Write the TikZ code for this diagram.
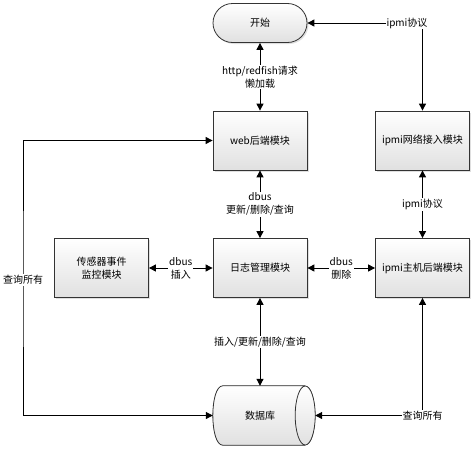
\documentclass[tikz,border=0pt]{standalone}
\usepackage{fontspec}
\setmainfont{Noto Sans CJK SC}
\usetikzlibrary{arrows.meta,shadows}
\begin{document}
\begin{tikzpicture}[x=1pt,y=-1pt,
  font=\fontsize{10}{13}\selectfont,
  box/.style={draw=black!80,line width=0.8pt,minimum width=94pt,minimum height=59pt,
    top color=white,bottom color=black!12,align=center,
    drop shadow={shadow xshift=1.5pt,shadow yshift=-1.5pt,opacity=0.25}},
  lbl/.style={fill=white,inner sep=1pt,align=center},
  arr/.style={line width=1pt,{Triangle[length=7pt,width=7pt]}-{Triangle[length=7pt,width=7pt]}}]
\useasboundingbox (0,0) rectangle (474,450);
% nodes
\node[box,rounded corners=19.5pt,minimum height=39pt] (start) at (260,23) {开始};
\node[box] (web) at (260,140.5) {web后端模块};
\node[box] (ipn) at (422.5,140.5) {ipmi网络接入模块};
\node[box] (sen) at (101.5,268) {传感器事件\\监控模块};
\node[box] (log) at (260,268) {日志管理模块};
\node[box] (iph) at (422.5,268) {ipmi主机后端模块};
% database cylinder
\node[minimum width=102pt,minimum height=59pt,inner sep=0pt] (db) at (264,415.5) {};
\fill[top color=white,bottom color=black!12]
  ([xshift=10pt]db.north west) -- ([xshift=-10pt]db.north east)
  .. controls ([xshift=3.3pt]db.north east) and ([xshift=3.3pt]db.south east) .. ([xshift=-10pt]db.south east)
  -- ([xshift=10pt]db.south west)
  .. controls ([xshift=-3.3pt]db.south west) and ([xshift=-3.3pt]db.north west) .. ([xshift=10pt]db.north west) -- cycle;
\draw[black!80,line width=0.8pt]
  ([xshift=10pt]db.north west) -- ([xshift=-10pt]db.north east)
  ([xshift=10pt]db.south west) -- ([xshift=-10pt]db.south east)
  ([xshift=10pt]db.north west)
  .. controls ([xshift=-3.3pt]db.north west) and ([xshift=-3.3pt]db.south west) .. ([xshift=10pt]db.south west);
\draw[black!80,line width=0.8pt] ([xshift=-10pt]db.east) ellipse [x radius=10pt,y radius=29.5pt];
\node at ([xshift=-4pt]db.center) {数据库};
% coordinates
\coordinate (lc) at (23,280);
% connectors
\draw[arr] (start.south) -- node[lbl]{http/redfish请求\\懒加载} (web.north);
\draw[arr] (start.east) -| (ipn.north);
\node[lbl] at (407,23) {ipmi协议};
\draw[arr] (web.south) -- node[lbl]{dbus\\更新/删除/查询} (log.north);
\draw[arr] (ipn.south) -- node[lbl]{ipmi协议} (iph.north);
\draw[arr] (sen.east) -- node[lbl]{dbus\\插入} (log.west);
\draw[arr] (log.east) -- node[lbl]{dbus\\删除} (iph.west);
\draw[arr] (log.south) -- node[lbl,pos=0.5]{插入/更新/删除/查询} (log.south |- db.north);
\draw[arr] (web.west) -| (lc) |- (db.west);
\node[lbl] at (lc) {查询所有};
\draw[arr] (iph.south) |- node[lbl,pos=0.5]{查询所有} (db.east);
\end{tikzpicture}
\end{document}
